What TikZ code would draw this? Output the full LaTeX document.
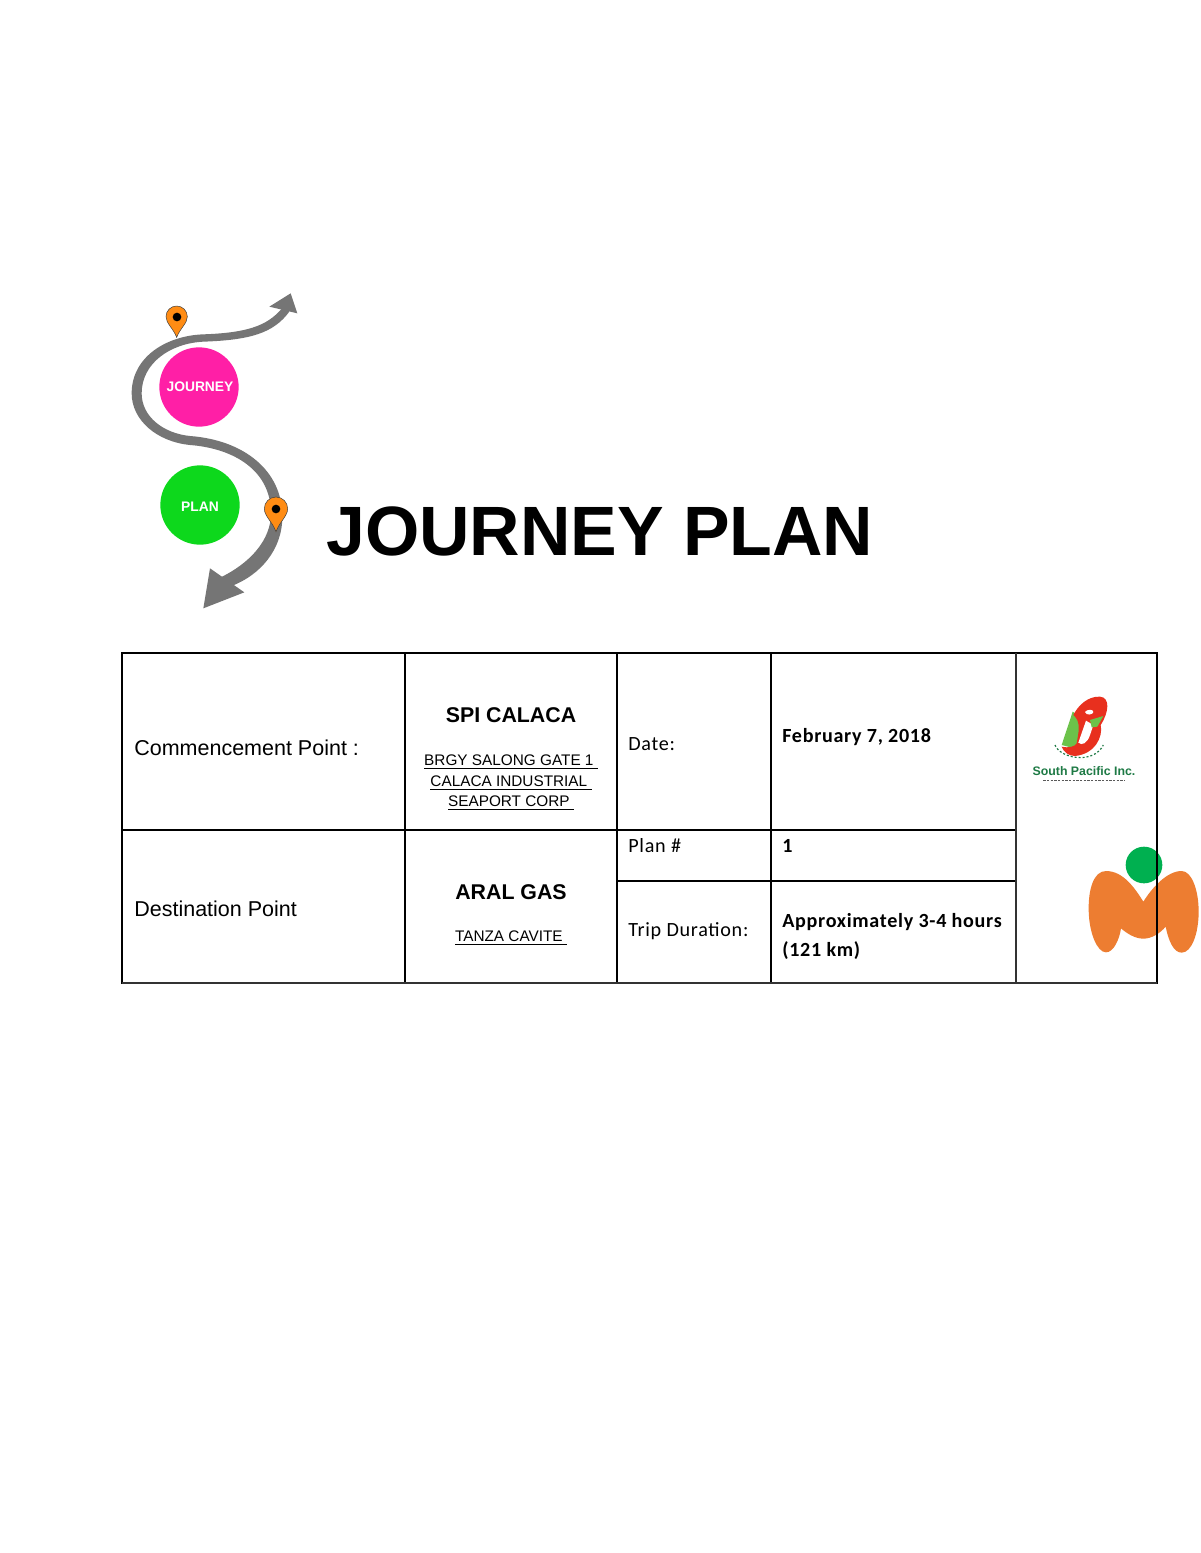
\documentclass[tikz,border=0pt]{standalone}
\usepackage{fontspec}
\setmainfont{Liberation Sans}
\newfontfamily\calib{Carlito}[LetterSpace=3.5]
\newcommand{\fs}[1]{\fontsize{#1}{#1}\selectfont}
\begin{document}
\begin{tikzpicture}[x=0.6pt,y=-0.6pt,
  road/.style={fill=roadgray,draw=none},
  pinshape/.style={fill=pinorange,draw=black!75,line width=0.3pt},
  pindot/.style={circle,fill=black,inner sep=0pt,minimum size=5.2pt},
  disc/.style={circle,inner sep=0pt,minimum size=47.6pt,text=white,font=\fs{8.3}\bfseries},
  lab/.style={anchor=west,inner sep=0pt,font=\fs{12.9}},
  cal/.style={anchor=west,inner sep=0pt,font=\calib\fs{12.1}},
  calb/.style={anchor=west,inner sep=0pt,font=\calib\fs{12.05}\bfseries},
  head/.style={inner sep=0pt,font=\fs{12.8}\bfseries},
  addr/.style={inner sep=0pt,font=\fs{9.2}},
  grid/.style={line width=1.6pt,black},
  thin/.style={line width=1.1pt,black!80}]
\definecolor{roadgray}{HTML}{757575}
\definecolor{pinorange}{HTML}{FF8C14}
\definecolor{magentad}{HTML}{FF1FA6}
\definecolor{greend}{HTML}{0DD81C}
\definecolor{mgreen}{HTML}{00B050}
\definecolor{morange}{HTML}{ED7D31}
\definecolor{spgreen}{HTML}{1E7A45}
\definecolor{spred}{HTML}{E8301E}
\definecolor{splight}{HTML}{6CC24A}
\useasboundingbox (0,0) rectangle (1200,1553);
\fill[white] (0,0) rectangle (1200,1553);
% road logo, zoom coordinates
\begin{scope}[shift={(110,280)},x=0.2pt,y=-0.2pt]
 \fill[road] (522,78) .. controls (480,130) and (430,158) .. (280,163)
   .. controls (170,167) and (65,230) .. (65,340)
   .. controls (65,420) and (140,485) .. (240,495)
   .. controls (370,505) and (483,570) .. (483,700)
   .. controls (483,780) and (420,850) .. (330,893)
   -- (365,918)
   .. controls (450,885) and (517,810) .. (517,710)
   .. controls (517,570) and (400,480) .. (240,468)
   .. controls (160,460) and (95,410) .. (95,340)
   .. controls (95,250) and (180,190) .. (280,185)
   .. controls (420,180) and (490,160) .. (538,95) -- cycle;
 \fill[road] (478,80) -- (542,40) -- (562,100) -- cycle;
 \fill[road] (300,865) -- (280,985) -- (403,937) -- cycle;
 \draw[pinshape] (200,172) .. controls (190,145) and (168,130) .. (168,110) arc[start angle=180,end angle=360,radius=32] .. controls (232,130) and (210,145) .. (200,172) -- cycle;
 \draw[pinshape] (498,755) .. controls (487,725) and (463,708) .. (463,686) arc[start angle=180,end angle=360,radius=35] .. controls (533,708) and (509,725) .. (498,755) -- cycle;
\end{scope}
\node[pindot] (dotA) at (177,317) {};
\node[pindot] (dotB) at (276,509) {};
\node[disc,fill=magentad] (journey) at (199,387) {\hspace*{1.2pt}JOURNEY};
\node[disc,fill=greend] (plan) at (200,505) {\raisebox{-3.6pt}[0pt][0pt]{PLAN}};
\node[anchor=base west,inner sep=0pt,font=\fs{41.9}\bfseries] (title) at (326,555.5) {JOURNEY PLAN};
% South Pacific logo, zoom coordinates
\begin{scope}[shift={(1010,680)},x=0.2pt,y=-0.2pt]
 \fill[splight] (188,95) -- (155,195) -- (205,208) -- (232,125) -- cycle;
 \fill[spred] (190,105) .. controls (205,75) and (235,48) .. (270,50)
   .. controls (300,52) and (298,95) .. (272,135)
   .. controls (280,170) and (255,222) .. (195,228)
   .. controls (175,228) and (160,215) .. (155,200)
   .. controls (175,205) and (195,200) .. (200,190)
   .. controls (205,160) and (215,125) .. (190,105) -- cycle;
 \fill[white] (225,96) .. controls (230,88) and (250,86) .. (250,96) .. controls (250,104) and (228,108) .. (225,96) -- cycle;
 \fill[white] (228,122) -- (205,188) .. controls (215,198) and (232,190) .. (240,165) -- (250,135) -- cycle;
 \fill[splight] (240,120) -- (280,108) -- (262,140) -- (245,142) -- cycle;
 \draw[spgreen,line width=0.7pt,dash pattern=on 1.2pt off 1.2pt] (135,195) .. controls (150,235) and (250,255) .. (280,195);
 \node[inner sep=0pt,text=spgreen,font=\fs{7.4}\bfseries] (spname) at (222,272) {South Pacific Inc.};
 \draw[black!65,line width=0.8pt,dash pattern=on 1.4pt off 0.8pt] (100,301) -- (345,301);
\end{scope}
% M logo, zoom coordinates
\begin{scope}[shift={(1010,830)},x=0.2pt,y=-0.2pt]
 \fill[morange] (400,215) .. controls (375,175) and (340,123) .. (288,123)
   .. controls (250,123) and (235,180) .. (236,240)
   .. controls (237,310) and (262,367) .. (288,367)
   .. controls (310,367) and (328,330) .. (333,295)
   .. controls (350,310) and (375,326) .. (400,326)
   .. controls (425,326) and (450,310) .. (467,290)
   .. controls (475,330) and (490,368) .. (515,368)
   .. controls (545,368) and (566,310) .. (566,245)
   .. controls (566,180) and (545,123) .. (515,123)
   .. controls (470,123) and (425,175) .. (400,215) -- cycle;
 \fill[mgreen] (402,105) circle[radius=55];
\end{scope}
% table
\coordinate (tl) at (122,653); \coordinate (tr) at (1157,653);
\coordinate (bl) at (122,983); \coordinate (br) at (1157,983);
\coordinate (a1) at (405,653); \coordinate (a2) at (405,983);
\coordinate (b1) at (617,653); \coordinate (b2) at (617,983);
\coordinate (c1) at (771,653); \coordinate (c2) at (771,983);
\coordinate (d1) at (1016,653); \coordinate (d2) at (1016,983);
\coordinate (h1) at (122,830); \coordinate (h2) at (1016,830);
\coordinate (k1) at (617,881); \coordinate (k2) at (1016,881);
\draw[grid,line cap=rect] (tl) -- (tr) (tr) -- (br) (tl) -- (bl) (a1) -- (a2) (b1) -- (b2) (c1) -- (c2) (h1) -- (h2) (k1) -- (k2);
\draw[thin] (bl) -- (br) (d1) -- (d2);
\node[lab] (cp) at (134,748) {Commencement Point :};
\node[lab] (dp) at (134,909) {Destination Point};
\node[head] (spi) at (511,715) {SPI CALACA};
\node[addr] (ad1) at (511,762) {\underline{BRGY SALONG GATE 1\ }};
\node[addr] (ad2) at (511,783) {\underline{CALACA INDUSTRIAL\ }};
\node[addr] (ad3) at (511,803) {\underline{SEAPORT CORP\ }};
\node[head] (aral) at (511,892) {ARAL GAS};
\node[addr] (ad4) at (511,938) {\underline{TANZA CAVITE\ }};
\node[cal] (date) at (628,744) {Date:};
\node[calb] (dval) at (782,737) {February 7, 2018};
\node[cal] (pn) at (628,846) {Plan \#};
\node[calb] (pval) at (782,846) {1};
\node[cal] (td) at (628,931) {Trip Duration:};
\node[calb] (tv1) at (782,922) {Approximately 3-4 hours};
\node[calb] (tv2) at (782,951) {(121 km)};
\end{tikzpicture}
\end{document}
